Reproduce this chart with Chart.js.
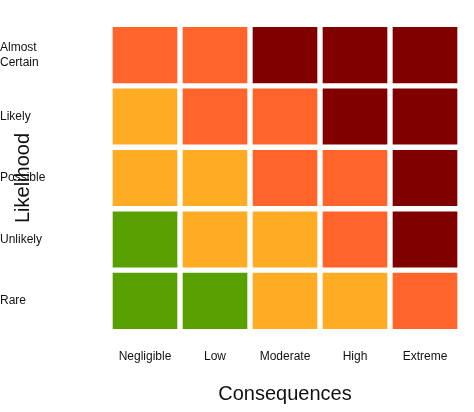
<!DOCTYPE html>
<html><head><meta charset="utf-8">
<script src="https://cdn.jsdelivr.net/npm/chart.js@4"></script>
<style>html,body{margin:0;padding:0;background:#fff}#w{width:474px;height:412px}</style>
</head><body><div id="w"><canvas id="c"></canvas></div>
<script>
const consequences = ['Negligible','Low','Moderate','High','Extreme'];
const likelihood = ['Rare','Unlikely','Possible','Likely','Almost Certain'];
// risk level per cell: rows from Rare (bottom) to Almost Certain (top); 0 low,1 medium,2 high,3 extreme
const riskRare =          [0,0,1,1,2];
const riskUnlikely =      [0,1,1,2,3];
const riskPossible =      [1,1,2,2,3];
const riskLikely =        [1,2,2,3,3];
const riskAlmostCertain = [2,2,3,3,3];
const rows = [riskRare,riskUnlikely,riskPossible,riskLikely,riskAlmostCertain];
const levelColors = ['#57A000','#FFAC25','#FF652B','#800000'];

const datasets = rows.map((r,i)=>({
  label: likelihood[i],
  data: consequences.map(()=>1),
  backgroundColor: r.map(l=>levelColors[l]),
  borderColor:'#fff', borderWidth:3, borderSkipped:false,
  barPercentage:1, categoryPercentage:1
}));
const F = 'Liberation Sans, Arial, sans-serif';
const yTitle = {id:'yTitle', afterDraw(chart){
  const ctx=chart.ctx, a=chart.chartArea;
  ctx.save(); ctx.translate(23,(a.top+a.bottom)/2); ctx.rotate(-Math.PI/2);
  ctx.font='20px '+F; ctx.fillStyle='#111'; ctx.textAlign='center'; ctx.textBaseline='middle';
  ctx.fillText('Likelihood',0,0); ctx.restore();
}};
new Chart(document.getElementById('c'),{
  type:'bar',
  data:{labels:consequences,datasets},
  plugins:[yTitle],
  options:{
    responsive:true, maintainAspectRatio:false, animation:false,
    layout:{padding:{top:-16,right:14,bottom:2,left:0}},
    plugins:{legend:{display:false},tooltip:{enabled:false}},
    scales:{
      x:{stacked:true,grid:{display:false},border:{display:false},
        ticks:{color:'#111',font:{family:F,size:12},padding:10},
        title:{display:true,text:'Consequences',color:'#111',font:{family:F,size:20},padding:{top:8}}},
      y:{stacked:true,min:0,max:5,grid:{display:false},border:{display:false},
        afterFit:s=>{s.width=110;},
        afterBuildTicks:s=>{s.ticks=[0.5,1.5,2.5,3.5,4.5].map(v=>({value:v}));},
        ticks:{color:'#111',font:{family:F,size:12},crossAlign:'far',padding:10,
          callback:v=>{const n=likelihood[Math.floor(v)];return n==='Almost Certain'?['Almost','Certain']:n;}}}
    }
  }
});
</script></body></html>
